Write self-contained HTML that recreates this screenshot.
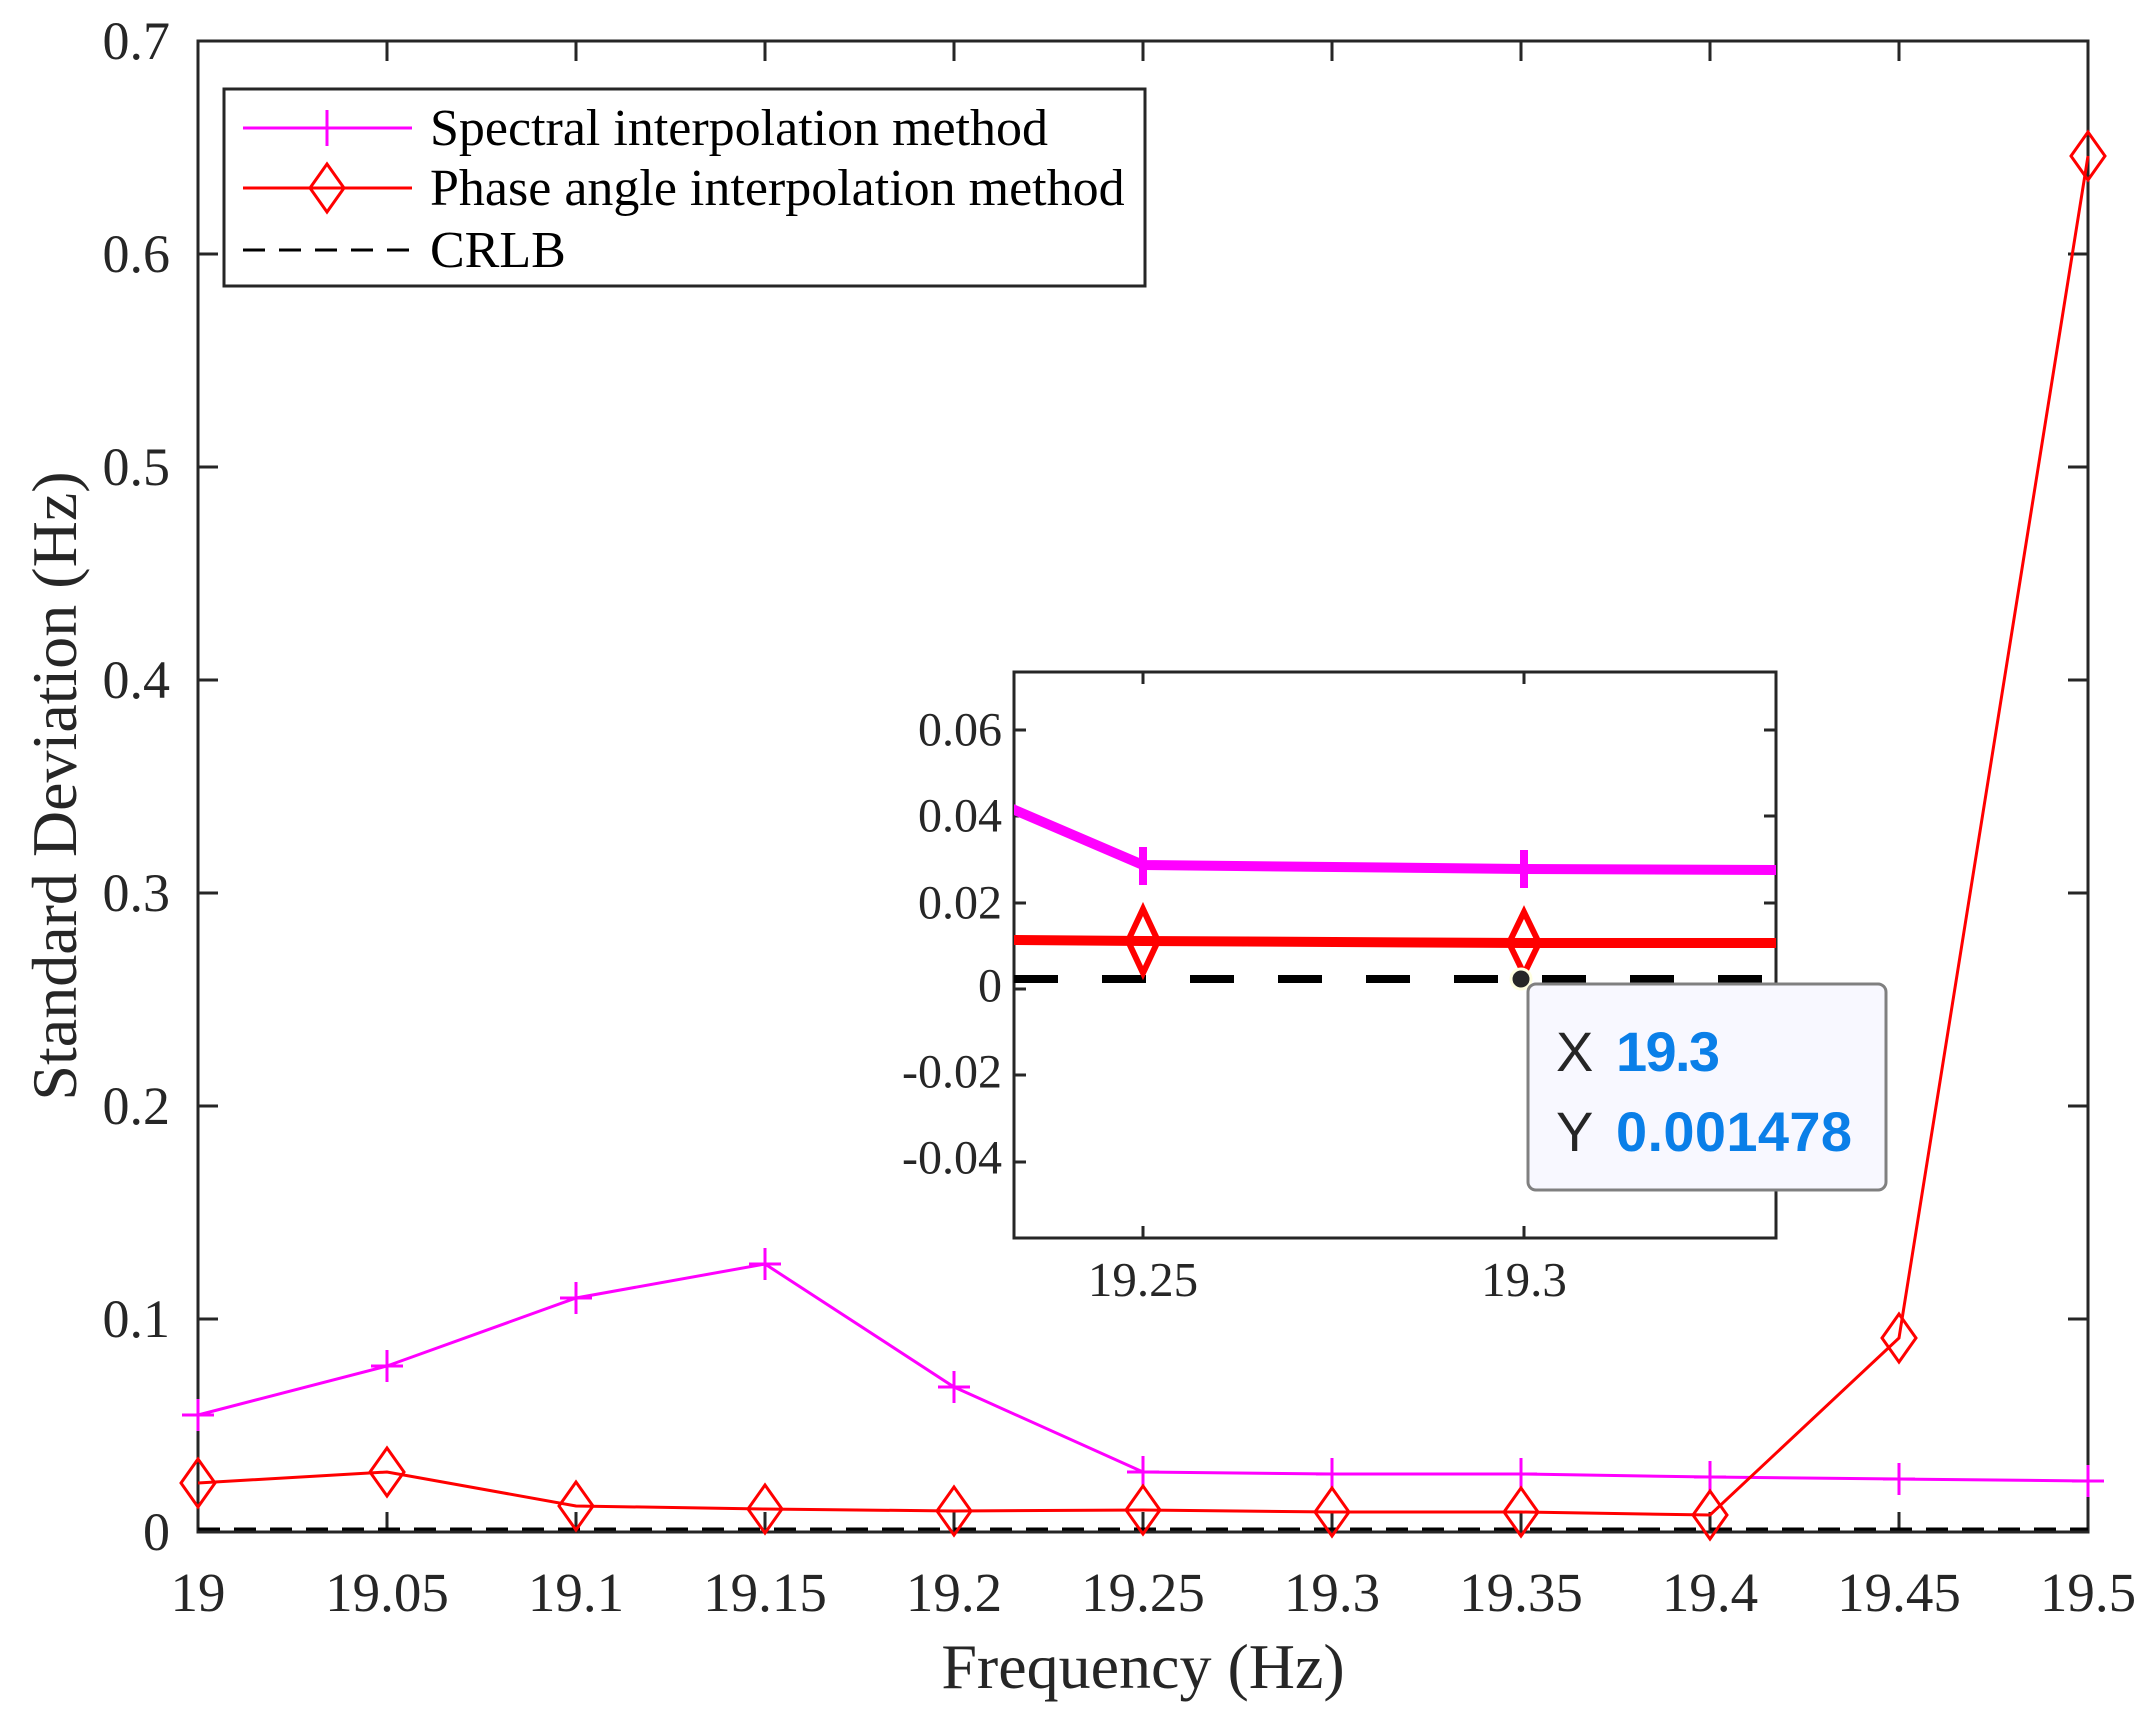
<!DOCTYPE html>
<html><head><meta charset="utf-8"><style>html,body{margin:0;padding:0;background:#fff}svg{display:block}</style></head>
<body>
<svg width="2155" height="1728" viewBox="0 0 2155 1728" xmlns="http://www.w3.org/2000/svg" font-family="Liberation Serif, serif" fill="#262626">
<defs>
<clipPath id="ic"><rect x="1014" y="672" width="762" height="566"/></clipPath>
<path id="dm" d="M0 -24L17 0L0 24L-17 0Z"/>
</defs>
<rect x="198" y="41" width="1890" height="1491" fill="#fff" stroke="#262626" stroke-width="3"/>
<g stroke="#262626" stroke-width="3">
<path d="M387 1532v-20M576 1532v-20M765 1532v-20M954 1532v-20M1143 1532v-20M1332 1532v-20M1521 1532v-20M1710 1532v-20M1899 1532v-20
M387 41v20M576 41v20M765 41v20M954 41v20M1143 41v20M1332 41v20M1521 41v20M1710 41v20M1899 41v20
M198 1319h20M198 1106h20M198 893h20M198 680h20M198 467h20M198 254h20
M2088 1319h-20M2088 1106h-20M2088 893h-20M2088 680h-20M2088 467h-20M2088 254h-20"/>
</g>
<g font-size="54" text-anchor="end" dominant-baseline="central">
<text x="170" y="1532">0</text><text x="170" y="1319">0.1</text><text x="170" y="1106">0.2</text><text x="170" y="893">0.3</text>
<text x="170" y="680">0.4</text><text x="170" y="467">0.5</text><text x="170" y="254">0.6</text><text x="170" y="41">0.7</text>
</g>
<g font-size="55" text-anchor="middle">
<text x="198" y="1611">19</text><text x="387" y="1611">19.05</text><text x="576" y="1611">19.1</text><text x="765" y="1611">19.15</text>
<text x="954" y="1611">19.2</text><text x="1143" y="1611">19.25</text><text x="1332" y="1611">19.3</text><text x="1521" y="1611">19.35</text>
<text x="1710" y="1611">19.4</text><text x="1899" y="1611">19.45</text><text x="2088" y="1611">19.5</text>
</g>
<text x="1143" y="1688" font-size="64" text-anchor="middle">Frequency (Hz)</text>
<text transform="translate(76,786) rotate(-90)" font-size="64" text-anchor="middle">Standard Deviation (Hz)</text>
<path d="M198 1529H2088" stroke="#000" stroke-width="3" stroke-dasharray="22,14" fill="none"/>
<g stroke="#ff00ff" stroke-width="3" fill="none">
<polyline points="198,1415 387,1366 576,1298 765,1264 954,1387 1143,1472 1332,1474 1521,1474 1710,1477 1899,1479 2088,1481"/>
<path d="M182 1415h32M198 1399v32M371 1366h32M387 1350v32M560 1298h32M576 1282v32M749 1264h32M765 1248v32M938 1387h32M954 1371v32M1127 1472h32M1143 1456v32M1316 1474h32M1332 1458v32M1505 1474h32M1521 1458v32M1694 1477h32M1710 1461v32M1883 1479h32M1899 1463v32M2072 1481h32M2088 1465v32"/>
</g>
<g stroke="#ff0000" stroke-width="3" fill="none">
<polyline points="198,1483 387,1472 576,1506 765,1509 954,1511 1143,1510 1332,1512 1521,1512 1710,1515 1899,1338 2088,156"/>
<use href="#dm" x="198" y="1483"/><use href="#dm" x="387" y="1472"/><use href="#dm" x="576" y="1506"/><use href="#dm" x="765" y="1509"/>
<use href="#dm" x="954" y="1511"/><use href="#dm" x="1143" y="1510"/><use href="#dm" x="1332" y="1512"/><use href="#dm" x="1521" y="1512"/>
<use href="#dm" x="1710" y="1515"/><use href="#dm" x="1899" y="1338"/><use href="#dm" x="2088" y="156"/>
</g>
<rect x="224" y="89" width="921" height="197" fill="#fff" stroke="#262626" stroke-width="3"/>
<path d="M243 128H412" stroke="#ff00ff" stroke-width="3"/><path d="M327 110v36M309 128h36" stroke="#ff00ff" stroke-width="3"/>
<path d="M243 188H412" stroke="#ff0000" stroke-width="3"/><path d="M327 164L344 188L327 212L310 188Z" stroke="#ff0000" stroke-width="3" fill="none"/>
<path d="M243 250H412" stroke="#000" stroke-width="3" stroke-dasharray="22,14"/>
<g font-size="52" fill="#000">
<text x="430" y="145">Spectral interpolation method</text>
<text x="430" y="205">Phase angle interpolation method</text>
<text x="430" y="267">CRLB</text>
</g>
<rect x="1014" y="672" width="762" height="566" fill="#fff" stroke="#262626" stroke-width="3"/>
<g stroke="#262626" stroke-width="3">
<path d="M1143 1238v-12M1524 1238v-12M1143 672v12M1524 672v12
M1014 730h12M1014 816h12M1014 903h12M1014 989h12M1014 1075h12M1014 1162h12
M1776 730h-12M1776 816h-12M1776 903h-12M1776 989h-12M1776 1075h-12M1776 1162h-12"/>
</g>
<g clip-path="url(#ic)" fill="none">
<path d="M1014 979H1776" stroke="#000" stroke-width="8" stroke-dasharray="44,44"/>
<polyline points="1010,808 1143,865 1524,869 1780,870" stroke="#ff00ff" stroke-width="10"/>
<path d="M1143 847v38M1524 850v38" stroke="#ff00ff" stroke-width="8"/>
<polyline points="1010,940 1143,941 1524,943 1780,943" stroke="#ff0000" stroke-width="10"/>
<path d="M1143 909L1158 941L1143 973L1128 941Z M1524 912L1539 943L1524 974L1509 943Z" stroke="#ff0000" stroke-width="6"/>
</g>
<circle cx="1521" cy="979" r="10" fill="#262626" stroke="#ffffe0" stroke-width="3"/>
<g font-size="48" text-anchor="end" dominant-baseline="central">
<text x="1002" y="730">0.06</text><text x="1002" y="816">0.04</text><text x="1002" y="903">0.02</text><text x="1002" y="986">0</text>
<text x="1002" y="1072">-0.02</text><text x="1002" y="1158">-0.04</text>
</g>
<g font-size="49" text-anchor="middle">
<text x="1143" y="1296">19.25</text><text x="1524" y="1296">19.3</text>
</g>
<rect x="1528" y="984" width="358" height="206" rx="8" fill="#f8f8ff" stroke="#808080" stroke-width="3"/>
<g font-family="Liberation Sans, sans-serif" font-size="56">
<text x="1556" y="1071" fill="#262626">X</text><text x="1616" y="1071" fill="#0a7fe8" font-weight="bold" textLength="104">19.3</text>
<text x="1556" y="1151" fill="#262626">Y</text><text x="1616" y="1151" fill="#0a7fe8" font-weight="bold" textLength="236">0.001478</text>
</g>
</svg>
</body></html>
